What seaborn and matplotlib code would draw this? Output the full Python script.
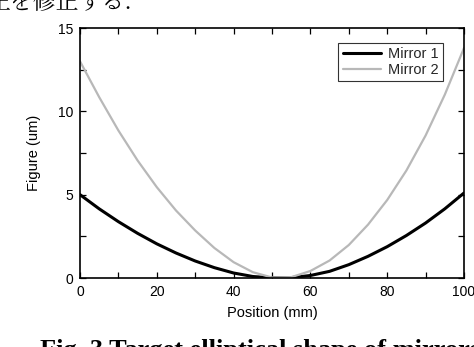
import numpy as np
import pandas as pd
import matplotlib
matplotlib.use("Agg")
import matplotlib.pyplot as plt
from matplotlib.ticker import MultipleLocator
import seaborn as sns

# ---- data ----
position_mm = [0, 5, 10, 15, 20, 25, 30, 35, 40, 45, 50,
               55, 60, 65, 70, 75, 80, 85, 90, 95, 100]
mirror1_um = [5.0, 4.15, 3.38, 2.68, 2.05, 1.5, 1.02, 0.62, 0.3, 0.09, 0.01,
              0.02, 0.15, 0.4, 0.8, 1.3, 1.88, 2.55, 3.3, 4.15, 5.1]
mirror2_um = [13.0, 10.85, 8.85, 7.05, 5.45, 4.05, 2.85, 1.8, 0.95, 0.35, 0.03,
              0.05, 0.42, 1.05, 1.98, 3.2, 4.68, 6.45, 8.55, 11.0, 13.8]
series_names = ["Mirror 1", "Mirror 2"]
x_ticks = [0, 20, 40, 60, 80, 100]
y_ticks = [0, 5, 10, 15]
x_label = "Position (mm)"
y_label = "Figure (um)"
top_text = "正を修正する."
caption_text = "Fig. 3 Target elliptical shape of mirrors"

df = pd.DataFrame({
    "Position": position_mm * 2,
    "Figure": mirror1_um + mirror2_um,
    "Series": [series_names[0]] * len(position_mm) + [series_names[1]] * len(position_mm),
})

sns.set_theme(style="white")
plt.rcParams["font.family"] = ["Liberation Sans", "DejaVu Sans"]

W, H = 474, 347
fig = plt.figure(figsize=(W / 100, H / 100), dpi=100)
ax = fig.add_axes([80 / W, (H - 278) / H, (464 - 80) / W, (278 - 28) / H])

widths = [2.2, 1.6]
sns.lineplot(data=df, x="Position", y="Figure", hue="Series",
             palette={series_names[0]: "#000000", series_names[1]: "#b8b8b8"},
             ax=ax, estimator=None, sort=False)
for line, lw in zip(ax.get_lines(), widths):
    line.set_linewidth(lw)
    line.set_solid_joinstyle("round")

ax.set_xlim(0, 100)
ax.set_ylim(0, 15)
ax.set_xticks(x_ticks)
ax.set_yticks(y_ticks)
ax.xaxis.set_minor_locator(MultipleLocator(10))
ax.yaxis.set_minor_locator(MultipleLocator(2.5))
ax.tick_params(which="both", direction="in", top=True, right=True,
               bottom=True, left=True, colors="black", labelsize=10,
               width=0.9, length=4, pad=5)
for sp in ax.spines.values():
    sp.set_color("black")
    sp.set_linewidth(1.2)

ax.set_xlabel(x_label, fontsize=10.5, color="black", labelpad=5)
ax.set_ylabel(y_label, fontsize=10.5, color="black", labelpad=12)

leg = ax.legend(loc="upper right", fontsize=10.5, frameon=True, fancybox=False,
                edgecolor="black", handlelength=2.6, borderpad=0.3,
                labelspacing=0.1, handletextpad=0.5, borderaxespad=0.0,
                bbox_to_anchor=(0.945, 0.94))
leg.get_frame().set_linewidth(0.8)
for h, lw in zip(leg.get_lines(), widths):
    h.set_linewidth(lw)

# clipped surrounding page text
fig.text(-13 / W, 1 - 9 / H, top_text, fontsize=16.5, color="black",
         family=["Noto Serif CJK JP", "Noto Sans CJK JP", "DejaVu Sans"],
         ha="left", va="baseline")
fig.text(40 / W, 1 - 339 / H, caption_text, fontsize=19, color="black",
         family=["Liberation Serif", "DejaVu Serif"], weight="bold",
         ha="left", va="top")

fig.savefig("out.png", dpi=100)
